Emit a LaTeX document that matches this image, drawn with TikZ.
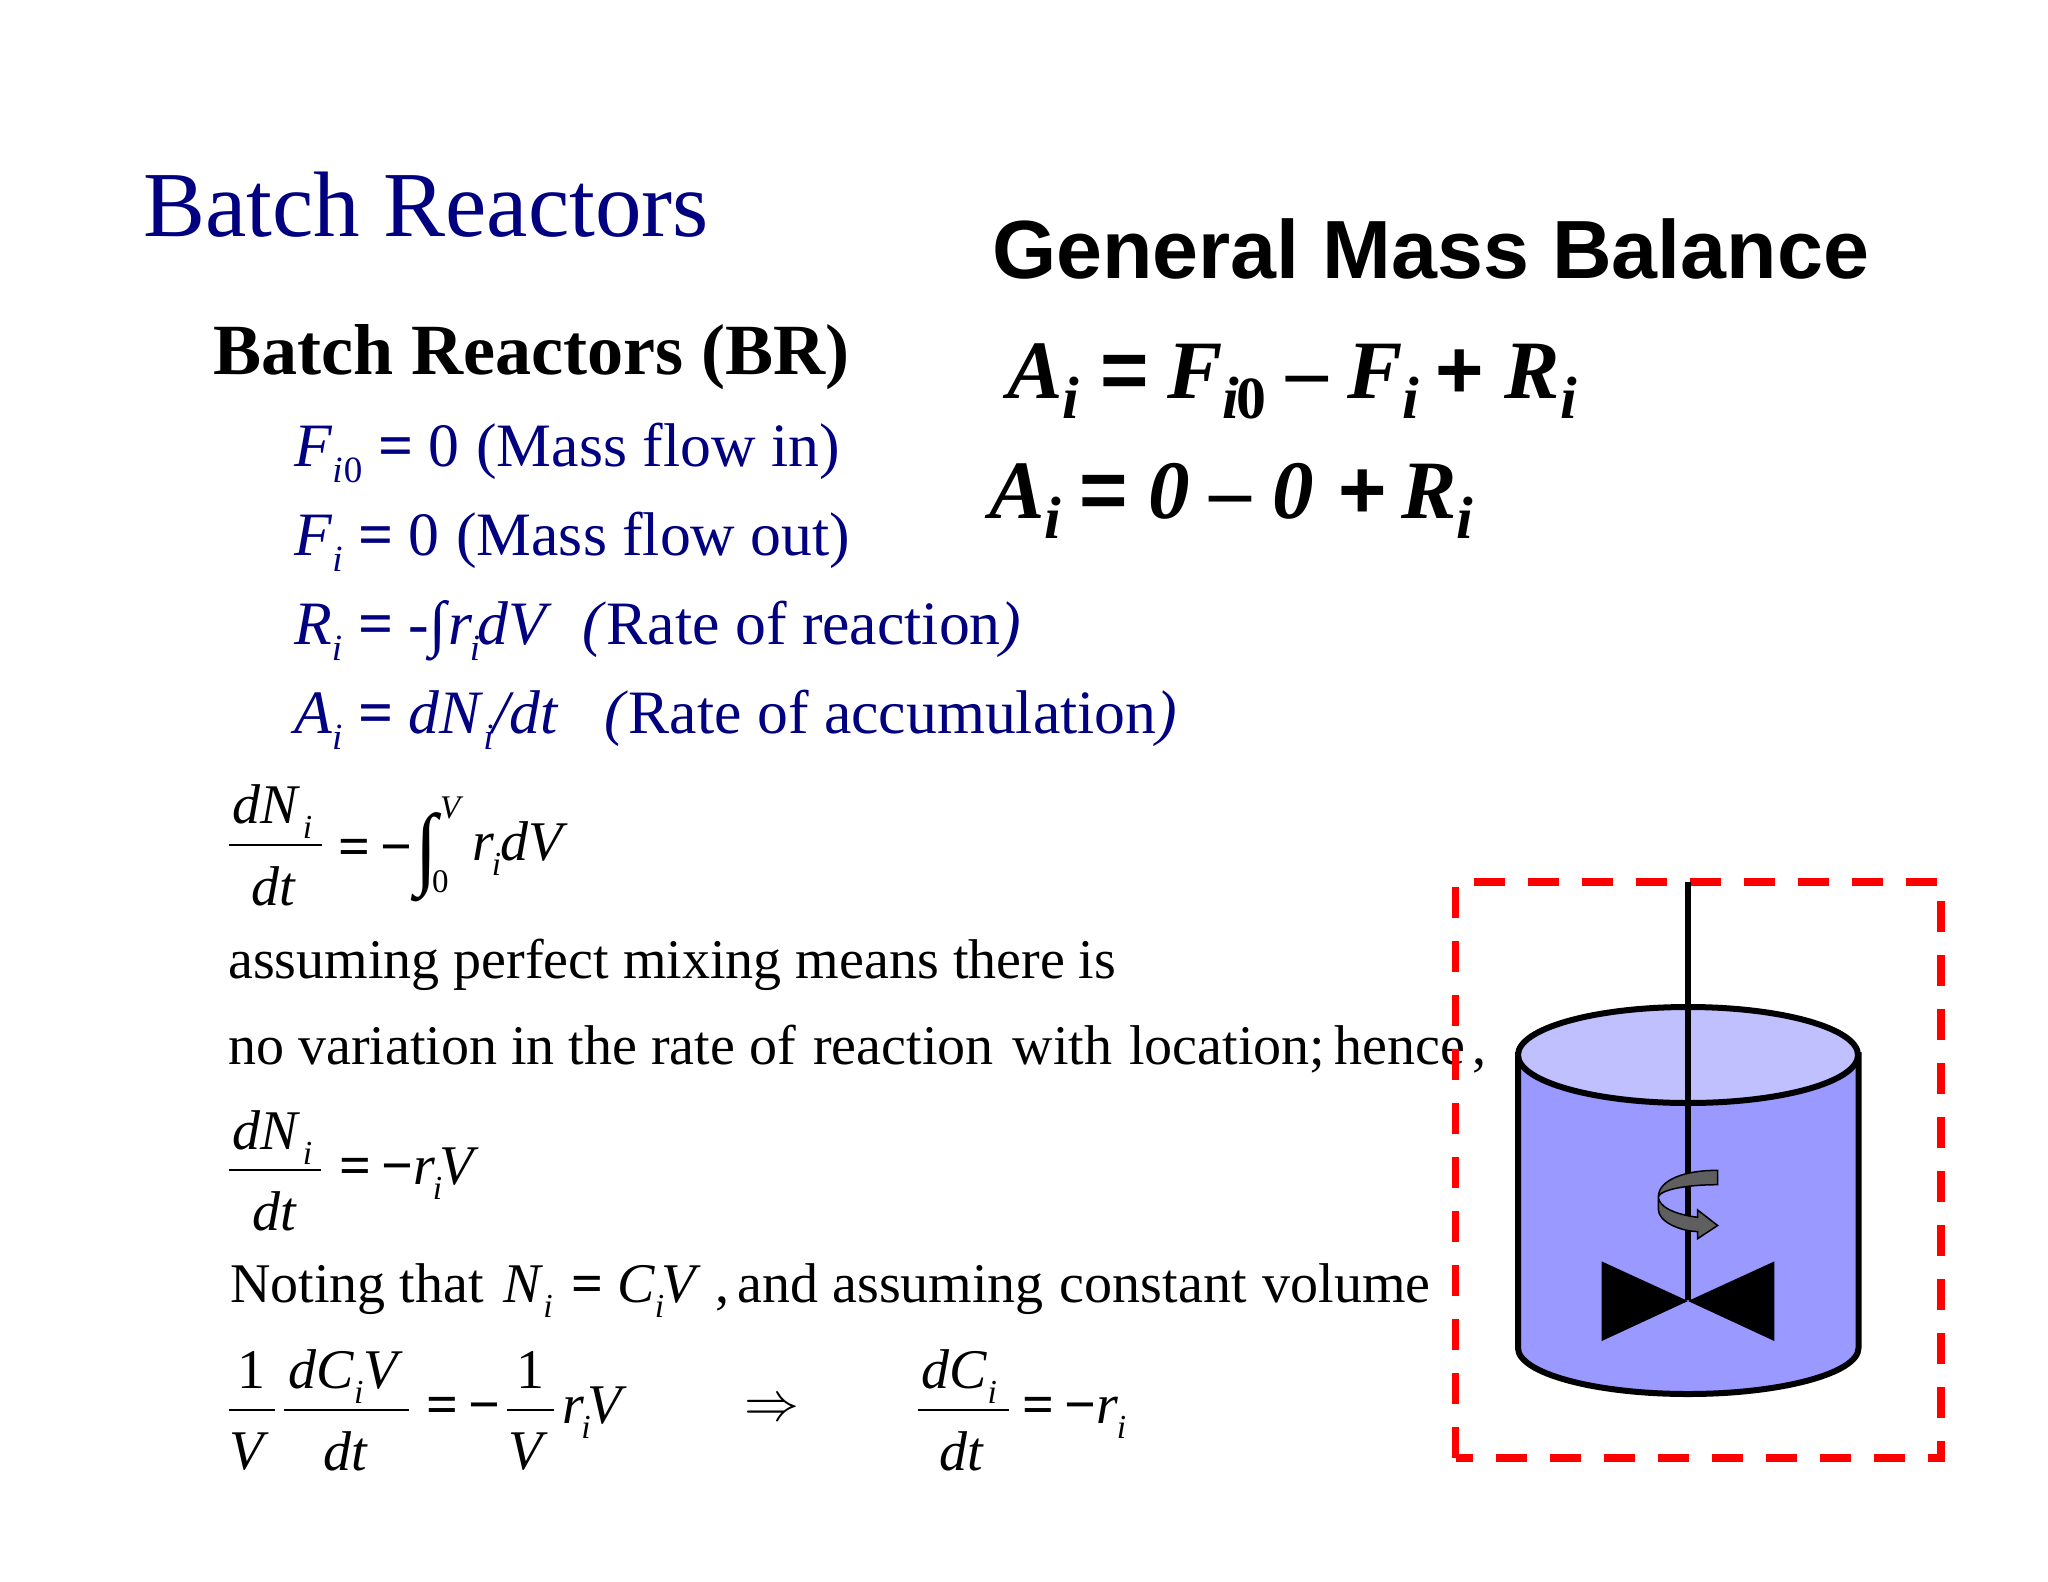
\documentclass[tikz,border=0pt]{standalone}
\usepackage{fontspec}
\setmainfont{Liberation Serif}
\setsansfont{Liberation Sans}
\definecolor{titleblue}{RGB}{0,0,128}
\definecolor{tankside}{RGB}{153,153,255}
\definecolor{tanktop}{RGB}{192,192,255}
\definecolor{stirgray}{RGB}{95,95,95}
\newcommand{\lowi}[1]{\raisebox{-.27em}{\scalebox{.6}{\textit{#1}}}}
\newcommand{\lowb}[1]{\raisebox{-.25em}{\scalebox{.72}{#1}}}
\newcommand{\minusb}{\textbf{=}\kern.19em\textbf{−}}
\newcommand{\opb}[1]{{\upshape\sffamily\bfseries #1}}
\begin{document}
\begin{tikzpicture}[x=1pt,y=-1pt,
	txt/.style={anchor=base west,inner sep=0pt,font=\fontsize{56}{60}\selectfont},
	blueline/.style={txt,text=titleblue,font=\fontsize{61.7}{66}\selectfont},
	bigeq/.style={anchor=base west,inner sep=0pt,font=\fontsize{83}{90}\selectfont\bfseries\itshape},
	fbar/.style={fill=black,inner sep=0pt,minimum height=2pt}]
	\useasboundingbox (0,0) rectangle (2048,1582);
	\draw (143,236) node[anchor=base west,inner sep=0pt,text=titleblue,font=\fontsize{93}{100}\selectfont](title) {Batch Reactors};
	\draw (992,278) node[anchor=base west,inner sep=0pt,font=\fontsize{82.6}{90}\selectfont\sffamily\bfseries](balance) {General Mass Balance};
	\draw (213,374) node[anchor=base west,inner sep=0pt,font=\fontsize{72.1}{80}\selectfont\bfseries](brhead) {Batch Reactors (BR)};
	\draw (1007,398) node[bigeq](eqone) {A\lowb{i}\kern.257em\opb{=}\kern.22em F\lowb{i\kern-.05em\upshape 0}\kern.245em{\upshape–}\kern.23em F\lowb{i}\kern.2em\opb{+}\kern.25em R\lowb{i}};
	\draw (989,518) node[bigeq](eqtwo) {A\lowb{i}\kern.217em\opb{=}\kern.25em 0 – 0\kern.04em{} \opb{+}\kern.17em R\lowb{i}};
	\draw (294,466) node[blueline](flowin) {\textit{F}\lowi{i\kern.03em\upshape 0}\kern.26em\textbf{=}\kern.25em 0\kern.27em(Mass flow in)};
	\draw (294,555) node[blueline](flowout) {\textit{F}\lowi{i}\kern.26em\textbf{=}\kern.24em 0\kern.27em(Mass flow out)};
	\draw (294,644) node[blueline](rate) {\textit{R}\lowi{i}\kern.26em\textbf{=}\kern.24em -\kern.02em∫\kern.02em\textit{r}\kern-.04em\lowi{i}\kern-.04em\textit{dV}\kern.5em\textit{(}Rate of reaction\textit{)}};
	\draw (294,733) node[blueline](accum) {\textit{A}\lowi{i}\kern.26em\textbf{=}\kern.24em\textit{dN}\lowi{i}\kern-.02em\textit{/dt}\ \ \ \textit{(}Rate of accumulation\textit{)}};
	\draw (232,823) node[txt](numa) {\textit{dN}\kern.05em\lowi{i}};
	\draw (275,845) node[fbar,minimum width=93pt](bara) {};
	\draw (251,905) node[txt](dena) {\textit{dt}};
	\draw (338,865) node[txt](eqa) {\minusb};
	\draw (427,857) node[anchor=center,inner sep=0pt,font=\fontsize{70}{74}\selectfont](inta) {\scalebox{1.15}[1.3]{∫}};
	\draw (440,818) node[txt,font=\fontsize{33}{36}\selectfont\itshape](upa) {V};
	\draw (432,892) node[txt,font=\fontsize{33}{36}\selectfont](lowa) {0};
	\draw (472,860) node[txt](intb) {\textit{r}\kern-.04em\lowi{i}\kern-.01em\textit{dV}};
	\draw (228,978) node[txt](linea) {assuming perfect mixing means there is};
	\draw (228,1064) node[txt](lineb) {no variation in the rate of\kern3.5pt{} reaction\kern5pt{} with\kern3pt{} location;\kern-5pt{} hence\kern8pt{},};
	\draw (232,1149) node[txt](numb) {\textit{dN}\kern.05em\lowi{i}};
	\draw (275,1170) node[fbar,minimum width=92pt](barb) {};
	\draw (252,1230) node[txt](denb) {\textit{dt}};
	\draw (339,1184) node[txt](eqb) {\minusb\textit{r}\kern-.05em\lowi{i}\kern-.05em\textit{V}};
	\draw (230,1302) node[txt](noting) {Noting that\kern5.6pt{} \textit{N}\lowi{i}\kern.34em\textbf{=}\kern.24em\textit{C}\lowi{i}\kern-.04em\textit{V}{} ,\kern8pt{}and assuming\kern2pt{} constant\kern2pt{} volume};
	\draw (251,1388) node[txt,anchor=base](onea) {1};
	\draw (252,1410) node[fbar,minimum width=46pt](barc) {};
	\draw (229,1469) node[txt](vala) {\textit{V}};
	\draw (288,1388) node[txt](numc) {\textit{dC}\lowi{i}\textit{V}};
	\draw (346.5,1410) node[fbar,minimum width=125pt](bard) {};
	\draw (323,1470) node[txt](denc) {\textit{dt}};
	\draw (426,1423) node[txt](eqc) {\minusb};
	\draw (530,1388) node[txt,anchor=base](oneb) {1};
	\draw (530.5,1410) node[fbar,minimum width=47pt](bare) {};
	\draw (508,1469) node[txt](valb) {\textit{V}};
	\draw (562,1423) node[txt](ratev) {\textit{r}\kern-.05em\lowi{i}\kern-.05em\textit{V}};
	\draw (772,1410) node[anchor=center,inner sep=0pt](impl) {\scalebox{5.5}{$\Rightarrow$}};
	\draw (921.6,1388) node[txt](numd) {\textit{dC}\lowi{i}};
	\draw (963,1410) node[fbar,minimum width=91pt](barf) {};
	\draw (939,1470) node[txt](dend) {\textit{dt}};
	\draw (1022,1423) node[txt](eqd) {\minusb\textit{r}\kern-.03em\lowi{i}};
	\draw[red,line width=7.5pt,dash pattern=on 31pt off 23pt] (1455.5,1458) -- (1455.5,882) -- (1941,882) -- (1941,1458) -- cycle;
	\draw[fill=tankside,line width=6pt] (1518,1055) -- (1518,1348) .. controls (1518,1373) and (1594,1394) .. (1688,1394) .. controls (1782,1394) and (1858.5,1373) .. (1858.5,1348) -- (1858.5,1055) -- cycle;
	\draw[fill=tanktop,line width=6pt] (1688,1055) ellipse (170pt and 48pt);
	\draw[line width=5.4pt] (1688,882) -- (1688,1300);
	\draw[fill=stirgray,line width=1.5pt] (1717.6,1170.4) .. controls (1685,1170) and (1658.3,1180) .. (1658.3,1197) -- (1658.3,1209) .. controls (1658.3,1222) and (1680,1231) .. (1697.7,1231.6) -- (1697.7,1238.6) -- (1717.6,1225.5) -- (1697.7,1210) -- (1697.7,1217.3) .. controls (1672,1214) and (1659,1206) .. (1658.3,1197) .. controls (1660,1190) and (1685,1184.7) .. (1717.6,1184.7) -- cycle;
	\fill (1688,1301) -- (1601.7,1261.4) -- (1601.7,1341) -- cycle;
	\fill (1688,1301) -- (1774.3,1261.4) -- (1774.3,1341) -- cycle;
\end{tikzpicture}
\end{document}
